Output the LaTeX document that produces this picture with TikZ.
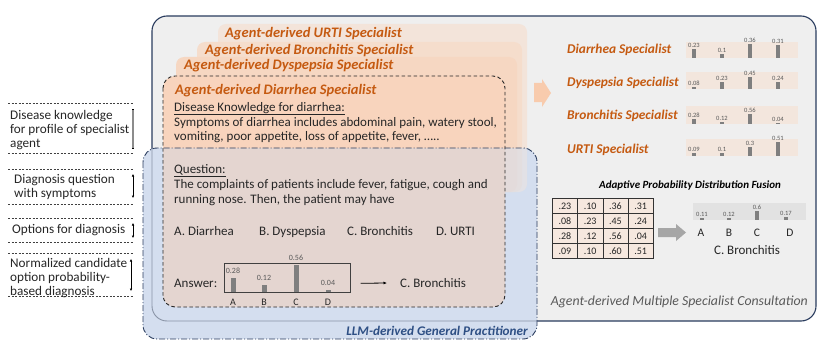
\documentclass[tikz,border=0pt]{standalone}
\usepackage{fontspec}
\setmainfont{Carlito}
\usetikzlibrary{arrows.meta}
\definecolor{navy}{HTML}{2A3C5E}
\definecolor{bggray}{HTML}{EFEFEF}
\definecolor{orT}{HTML}{C55A11}
\definecolor{pkA}{HTML}{F3E4DA}
\definecolor{pkB}{HTML}{F5DDCC}
\definecolor{pkC}{HTML}{F6D7C2}
\definecolor{pkD}{HTML}{F8D4BD}
\definecolor{pkDlow}{HTML}{E4D5D0}
\definecolor{bluebox}{HTML}{D4DEEF}
\definecolor{gpblue}{HTML}{2E4F84}
\definecolor{txt}{HTML}{262626}
\definecolor{bargray}{HTML}{7F7F7F}
\definecolor{valgray}{HTML}{595959}
\definecolor{stripc}{HTML}{F3E6DD}
\definecolor{fstrip}{HTML}{E2E2E2}
\definecolor{cellc}{HTML}{F6E8DF}
\definecolor{arrowpeach}{HTML}{F8CBAD}
\definecolor{arrowgray}{HTML}{A6A6A6}
\begin{document}
\begin{tikzpicture}[x=1pt,y=-1pt,
  otitle/.style={font=\bfseries\itshape\fontsize{14.5}{16}\selectfont, text=orT, anchor=base west, inner sep=0},
  rtitle/.style={font=\bfseries\itshape\fontsize{13.4}{15}\selectfont, text=orT, anchor=base west, inner sep=0},
  body/.style={font=\fontsize{13}{15}\selectfont, text=txt, anchor=base west, inner sep=0},
  lefttxt/.style={font=\fontsize{13.2}{14}\selectfont, text=txt, anchor=base west, inner sep=0},
  val/.style={font=\fontsize{6.5}{7}\selectfont, text=valgray, anchor=base, inner sep=0},
  smallval/.style={font=\fontsize{8}{9}\selectfont, text=valgray, anchor=base, inner sep=0},
  letter/.style={font=\fontsize{10}{11}\selectfont, text=txt, anchor=base, inner sep=0},
  fletter/.style={font=\fontsize{11.5}{12}\selectfont, text=txt, anchor=base, inner sep=0},
  sepline/.style={draw=black!75, line width=0.6pt, dash pattern=on 2pt off 1.5pt},
  dblarrow/.style={{Latex[length=2.5pt,width=2.5pt]}-{Latex[length=2.5pt,width=2.5pt]}, line width=0.5pt, black},
  cellstyle/.style={draw=black!80, line width=0.7pt, fill=cellc, minimum width=25.25pt, minimum height=15pt, inner sep=0, font=\fontsize{10}{11}\selectfont, text=txt},
]
\useasboundingbox (0,0) rectangle (830,353);

% outer consultation box
\path[fill=bggray, draw=navy, line width=1.1pt, rounded corners=15pt] (152,16) rectangle (816,321);

% stacked specialist boxes
\path[fill=pkA, rounded corners=8pt] (218,24) rectangle (527,192);
\path[fill=pkB, rounded corners=8pt] (197,42) rectangle (522,192);
\path[fill=pkC, rounded corners=8pt] (176,57) rectangle (517,192);
\path[fill=pkD, rounded corners=12pt] (163,76) rectangle (505,307);

% general practitioner box (fill)
\path[fill=bluebox, rounded corners=14pt] (143,148) rectangle (537,339);
\begin{scope}
  \clip[rounded corners=14pt] (143,148) rectangle (537,339);
  \path[fill=pkA!45!bluebox, rounded corners=8pt] (218,24) rectangle (527,192);
  \path[fill=pkB!45!bluebox, rounded corners=8pt] (197,42) rectangle (522,192);
  \path[fill=pkC!45!bluebox, rounded corners=8pt] (176,57) rectangle (517,192);
  \path[fill=pkDlow, rounded corners=12pt] (163,76) rectangle (505,307);
  \path[draw=navy!55, line width=0.9pt, rounded corners=15pt] (152,16) rectangle (816,321);
\end{scope}
\path[draw=navy, line width=0.9pt, dash pattern=on 6pt off 2pt on 1pt off 2pt, rounded corners=14pt] (143,148) rectangle (537,339);
\node[font=\bfseries\itshape\fontsize{13.2}{15}\selectfont, text=gpblue, anchor=base east, inner sep=0] (gp) at (528,335) {LLM-derived General Practitioner};

\node[otitle] (tU) at (225,38) {Agent-derived URTI Specialist};
\node[otitle] (tB) at (205,55) {Agent-derived Bronchitis Specialist};
\node[otitle] (tY) at (184,70) {Agent-derived Dyspepsia Specialist};

% diarrhea specialist dashed border
\draw[black!85, line width=0.9pt, dash pattern=on 3.5pt off 2.5pt, rounded corners=12pt] (163,76) rectangle (505,307);
\node[otitle] (tD) at (175,94) {Agent-derived Diarrhea Specialist};

\node[body] (dk) at (174,111) {\underline{Disease Knowledge for diarrhea:}};
\node[body] (s1) at (174,126) {Symptoms of diarrhea includes abdominal pain, watery stool,};
\node[body] (s2) at (174,140) {vomiting, poor appetite, loss of appetite, fever, …..};
\node[body] (q0) at (174,173) {\underline{Question:}};
\node[body] (q1) at (174,188) {The complaints of patients include fever, fatigue, cough and};
\node[body] (q2) at (174,203) {running nose. Then, the patient may have};
\node[body] (oA) at (174,235) {A. Diarrhea};
\node[body] (oB) at (259,235) {B. Dyspepsia};
\node[body] (oC) at (347,235) {C. Bronchitis};
\node[body] (oD) at (436,235) {D. URTI};
\node[body] (ans) at (174,287) {Answer:};

% answer chart
\node[draw=black!75, line width=0.6pt, minimum width=126pt, minimum height=29pt, inner sep=0, anchor=north west] (chart) at (224,263) {};
\foreach \x/\h/\v/\n in {233/14/0.28/a, 264/7/0.12/b, 296/27/0.56/c, 328/2.5/0.04/d}{
  \fill[bargray] (\x-2.5,292) rectangle (\x+2.5,292-\h);
  \node[smallval] (cv\n) at (\x,292-\h-4.5) {\v};
}
\node[letter] (cA) at (233,305) {A};
\node[letter] (cB) at (264,305) {B};
\node[letter] (cC) at (296,305) {C};
\node[letter] (cD) at (328,305) {D};
\node[body] (ansC) at (400,287) {C. Bronchitis};
\draw[-{Latex[length=3.5pt,width=3pt]}, line width=0.8pt, black] ([xshift=10pt,yshift=-5.5pt]chart.east) -- ([xshift=-13pt,yshift=4pt]ansC.base west);

% peach arrow
\fill[arrowpeach] (534,83) -- (542,83) -- (542,79) -- (551,93) -- (542,107) -- (542,102) -- (534,102) -- cycle;

% specialist rows
\node[rtitle] (rD) at (567,54) {Diarrhea Specialist};
\node[rtitle] (rY) at (567,86) {Dyspepsia Specialist};
\node[rtitle] (rB) at (567,119) {Bronchitis Specialist};
\node[rtitle] (rU) at (567,153) {URTI Specialist};

\fill[stripc] (686,42) rectangle (798,58);
\fill[stripc] (686,72) rectangle (798,89);
\fill[stripc] (686,106) rectangle (798,124);
\fill[stripc] (686,139) rectangle (798,156);

\foreach \x/\h/\v/\n in {694/9/0.23/a, 722/4/0.1/b, 750/14/0.36/c, 778/13/0.31/d}{
  \fill[bargray] (\x-2.3,58) rectangle (\x+2.3,58-\h);
  \node[val] (vD\n) at (\x,58-\h-1.5) {\v};
}
\foreach \x/\h/\v/\n in {694/2/0.08/a, 722/7/0.23/b, 750/12/0.45/c, 778/7/0.24/d}{
  \fill[bargray] (\x-2.3,89) rectangle (\x+2.3,89-\h);
  \node[val] (vY\n) at (\x,89-\h-1.5) {\v};
}
\foreach \x/\h/\v/\n in {694/5/0.28/a, 722/2/0.12/b, 750/10/0.56/c, 778/0.7/0.04/d}{
  \fill[bargray] (\x-2.3,124) rectangle (\x+2.3,124-\h);
  \node[val] (vB\n) at (\x,124-\h-1.5) {\v};
}
\foreach \x/\h/\v/\n in {694/3/0.09/a, 722/3/0.1/b, 750/9/0.3/c, 778/14/0.51/d}{
  \fill[bargray] (\x-2.3,156) rectangle (\x+2.3,156-\h);
  \node[val] (vU\n) at (\x,156-\h-1.5) {\v};
}

% fusion
\node[font=\bfseries\itshape\fontsize{11}{12}\selectfont, text=black, anchor=base, inner sep=0] (fus) at (690,188) {Adaptive Probability Distribution Fusion};
\foreach \r/\vals in {0/{.23,.10,.36,.31}, 1/{.08,.23,.45,.24}, 2/{.28,.12,.56,.04}, 3/{.09,.10,.60,.51}}{
  \foreach \v [count=\c from 0] in \vals {
    \node[cellstyle, anchor=north west] (cell\r\c) at (552+25.25*\c,198+15*\r) {\v};
  }
}
\fill[arrowgray] (658,228) -- (676,228) -- (676,224) -- (686,232.5) -- (676,241) -- (676,237) -- (658,237) -- cycle;

\fill[fstrip] (693,203) rectangle (806,220);
\foreach \x/\h/\v/\n in {702/2/0.11/a, 729/2/0.12/b, 757/9/0.6/c, 786/3/0.17/d}{
  \fill[bargray] (\x-2.3,220) rectangle (\x+2.3,220-\h);
  \node[val] (vF\n) at (\x,220-\h-2) {\v};
}
\node[fletter] (fA) at (701,236) {A};
\node[fletter] (fB) at (729,236) {B};
\node[fletter] (fC) at (757,236) {C};
\node[fletter] (fD) at (790,236) {D};
\node[font=\fontsize{13}{14}\selectfont, text=txt, anchor=base, inner sep=0] (fres) at (747,254) {C. Bronchitis};

\node[font=\itshape\fontsize{13.8}{15}\selectfont, text=valgray, anchor=base east, inner sep=0] (cons) at (808,305) {Agent-derived Multiple Specialist Consultation};

% left annotations
\foreach \y in {103,153,169,204,218,242,253,296}{
  \draw[sepline] (8,\y) -- (133,\y);
}
\node[lefttxt] (L1) at (10,119) {Disease knowledge};
\node[lefttxt] (L1b) at (10,133) {for profile of specialist};
\node[lefttxt] (L1c) at (10,147) {agent};
\node[lefttxt] (L2) at (14,183) {Diagnosis question};
\node[lefttxt] (L2b) at (14,197) {with symptoms};
\node[lefttxt] (L3) at (12,233) {Options for diagnosis};
\node[lefttxt] (L4) at (10,267) {Normalized candidate};
\node[lefttxt] (L4b) at (10,281) {option probability-};
\node[lefttxt] (L4c) at (10,295) {based diagnosis};

\coordinate (a1t) at (133,109); \coordinate (a1b) at (133,148);
\coordinate (a2t) at (133,174); \coordinate (a2b) at (133,198);
\coordinate (a3t) at (133,223); \coordinate (a3b) at (133,238);
\coordinate (a4t) at (131,259); \coordinate (a4b) at (131,291);
\draw[line width=1.1pt, black!45] (a1t) -- (a1b);
\draw[line width=0.6pt, black] ([xshift=-1pt]a1t) -- ([xshift=1pt]a1t);
\draw[line width=0.6pt, black] ([xshift=-1pt]a1b) -- ([xshift=1pt]a1b);
\draw[dblarrow] (a2t) -- (a2b);
\draw[dblarrow] (a3t) -- (a3b);
\draw[dblarrow] (a4t) -- (a4b);
\end{tikzpicture}
\end{document}
